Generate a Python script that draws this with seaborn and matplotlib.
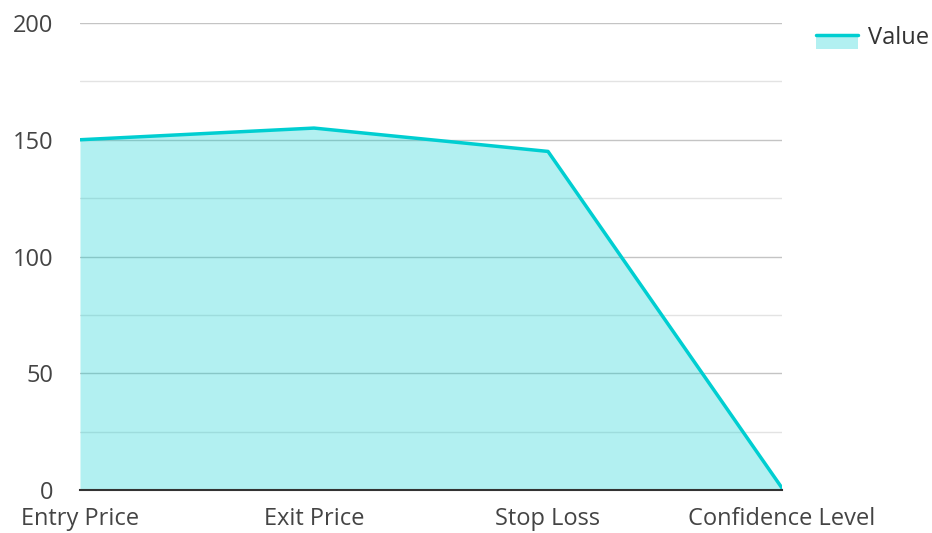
import matplotlib
matplotlib.use("Agg")
import matplotlib.pyplot as plt
import seaborn as sns
import pandas as pd
from matplotlib.legend_handler import HandlerBase
from matplotlib.patches import Rectangle
from matplotlib.lines import Line2D

categories = ["Entry Price", "Exit Price", "Stop Loss", "Confidence Level"]
values = [150, 155, 145, 0.85]
y_ticks = [0, 50, 100, 150, 200]
y_minor = [25, 75, 125, 175]

color = "#00CED1"

sns.set_theme(style="white")
plt.rcParams["font.family"] = ["Open Sans", "DejaVu Sans"]

df = pd.DataFrame({"x": range(len(categories)), "Category": categories, "Value": values})

fig = plt.figure(figsize=(9.32, 5.33), dpi=100)
ax = fig.add_axes([80 / 932, 1 - 490 / 533, (782 - 80) / 932, (490 - 23) / 533])

for y in y_ticks[1:]:
    ax.axhline(y, color="#c4c4c4", lw=1, zorder=0)
for y in y_minor:
    ax.axhline(y, color="#e3e3e3", lw=1, zorder=0)

ax.fill_between(df["x"], df["Value"], 0, color=color, alpha=0.3, lw=0, zorder=1)
sns.lineplot(data=df, x="x", y="Value", color=color, lw=2.5, ax=ax, zorder=3, legend=False)

ax.set_xlim(0, len(categories) - 1)
ax.set_ylim(0, 200)
ax.set_xticks(range(len(categories)))
ax.set_xticklabels(categories)
ax.set_yticks(y_ticks)
ax.set_xlabel("")
ax.set_ylabel("")
for s in ["top", "right", "left"]:
    ax.spines[s].set_visible(False)
ax.spines["bottom"].set_color("#333333")
ax.spines["bottom"].set_linewidth(1.5)
ax.spines["bottom"].set_zorder(4)
ax.tick_params(axis="both", length=0, labelsize=17, colors="#444444")
ax.tick_params(axis="y", pad=19)
ax.tick_params(axis="x", pad=12)
for t in ax.get_yticklabels():
    t.set_horizontalalignment("right")


class AreaHandler(HandlerBase):
    def create_artists(self, legend, orig_handle, xdescent, ydescent, width, height, fontsize, trans):
        shift = 4.0
        y0 = -ydescent - shift
        rect = Rectangle((-xdescent, y0), width, height * 0.95,
                         facecolor=color, alpha=0.3, lw=0, transform=trans)
        line = Line2D([-xdescent, -xdescent + width], [y0 + height * 0.95] * 2,
                      color=color, lw=2.5, transform=trans)
        return [rect, line]


h = Line2D([], [], color=color)
fig.legend([h], ["Value"], handler_map={Line2D: AreaHandler()},
           loc="upper left", bbox_to_anchor=(795 / 932, 1 - 5 / 533),
           frameon=False, fontsize=17, handlelength=1.75, handleheight=0.55,
           handletextpad=0.45, labelcolor="#333333")

fig.savefig("out.png", dpi=100)
